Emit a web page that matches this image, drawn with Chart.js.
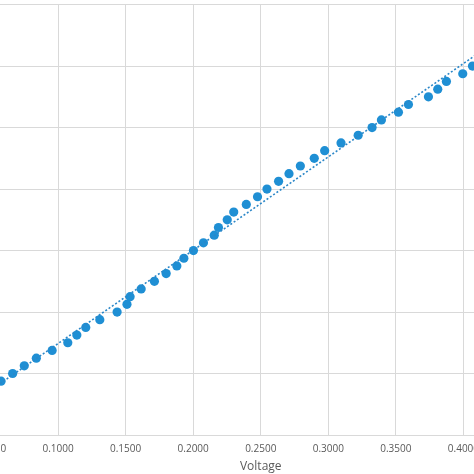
<!DOCTYPE html>
<html>
<head>
<meta charset="utf-8">
<script src="https://cdn.jsdelivr.net/npm/chart.js@4/dist/chart.umd.min.js"></script>
<style>
  html, body { margin: 0; padding: 0; background: #fff; }
  #wrap { position: relative; width: 474px; height: 474px; overflow: hidden; }
  #box { position: absolute; left: -40px; top: 0; width: 600px; height: 474px; }
</style>
</head>
<body>
<div id="wrap"><div id="box"><canvas id="myChart"></canvas></div></div>
<script>
// data
var voltage = [0.0578, 0.0664, 0.0750, 0.0839, 0.0956, 0.1072, 0.1139, 0.1205, 0.1309, 0.1437,
  0.1510, 0.1533, 0.1615, 0.1713, 0.1800, 0.1879, 0.1931, 0.2002, 0.2076, 0.2156,
  0.2187, 0.2252, 0.2300, 0.2393, 0.2476, 0.2546, 0.2632, 0.2709, 0.2793, 0.2896,
  0.2973, 0.3094, 0.3221, 0.3324, 0.3393, 0.3519, 0.3593, 0.3741, 0.3810, 0.3874,
  0.3995, 0.4067];
var current = [0.875, 1.000, 1.125, 1.250, 1.375, 1.500, 1.625, 1.750, 1.875, 2.000,
  2.125, 2.250, 2.375, 2.500, 2.625, 2.750, 2.875, 3.000, 3.125, 3.250,
  3.375, 3.500, 3.625, 3.750, 3.875, 4.000, 4.125, 4.250, 4.375, 4.500,
  4.625, 4.750, 4.875, 5.000, 5.125, 5.250, 5.375, 5.500, 5.625, 5.750,
  5.875, 6.000];
var xTicks = [0.05, 0.10, 0.15, 0.20, 0.25, 0.30, 0.35, 0.40, 0.45];
var trendRange = [0.04, 0.44];

// points
var points = voltage.map(function (v, i) {
  return { x: v, y: current[i] };
});

// linear trendline (least squares)
var n = points.length, sx = 0, sy = 0, sxx = 0, sxy = 0;
for (var i in points) {
  sx += points[i].x; sy += points[i].y;
  sxx += points[i].x * points[i].x; sxy += points[i].x * points[i].y;
}
var slope = (n * sxy - sx * sy) / (n * sxx - sx * sx);
var icpt = (sy - slope * sx) / n;
var trend = trendRange.map(function (x) {
  return { x: x, y: icpt + slope * x };
});

var gridColor = '#d9d9d9';
var ctx = document.getElementById("myChart").getContext("2d");

// create chart
var myChart = new Chart(ctx, {
  type: 'scatter',
  data: {
    datasets: [
      {
        label: 'Trend',
        type: 'line',
        data: trend,
        borderColor: '#2b87c8',
        borderWidth: 1.6,
        borderDash: [2, 2],
        pointRadius: 0,
        fill: false,
        order: 0
      },
      {
        label: 'Data',
        data: points,
        backgroundColor: '#1f8fd4',
        borderColor: '#1f8fd4',
        borderWidth: 0,
        pointRadius: 4.6,
        order: 1
      }
    ]
  },
  options: {
    responsive: true,
    maintainAspectRatio: false,
    animation: false,
    layout: { padding: { left: 30.5, right: 29, top: 4, bottom: 0 } },
    plugins: {
      legend: { display: false },
      tooltip: { enabled: false }
    },
    scales: {
      x: {
        type: 'linear',
        min: 0.05,
        max: 0.45,
        afterBuildTicks: function (scale) {
          scale.ticks = xTicks.map(function (v) { return { value: v }; });
        },
        afterFit: function (scale) { scale.height = 39; },
        grid: { color: gridColor, drawTicks: false },
        border: { color: gridColor },
        ticks: {
          padding: 8,
          color: '#595959',
          font: { family: 'Open Sans', size: 10 },
          callback: function (v) { return v.toFixed(4); }
        },
        title: {
          display: true,
          text: 'Voltage',
          color: '#595959',
          padding: 0,
          font: { family: 'Open Sans', size: 12 }
        }
      },
      y: {
        min: 0,
        max: 7,
        afterFit: function (scale) { scale.width = 0; },
        grid: { color: gridColor, drawTicks: false },
        border: { display: false },
        ticks: { display: false, stepSize: 1 }
      }
    }
  }
});
</script>
</body>
</html>
